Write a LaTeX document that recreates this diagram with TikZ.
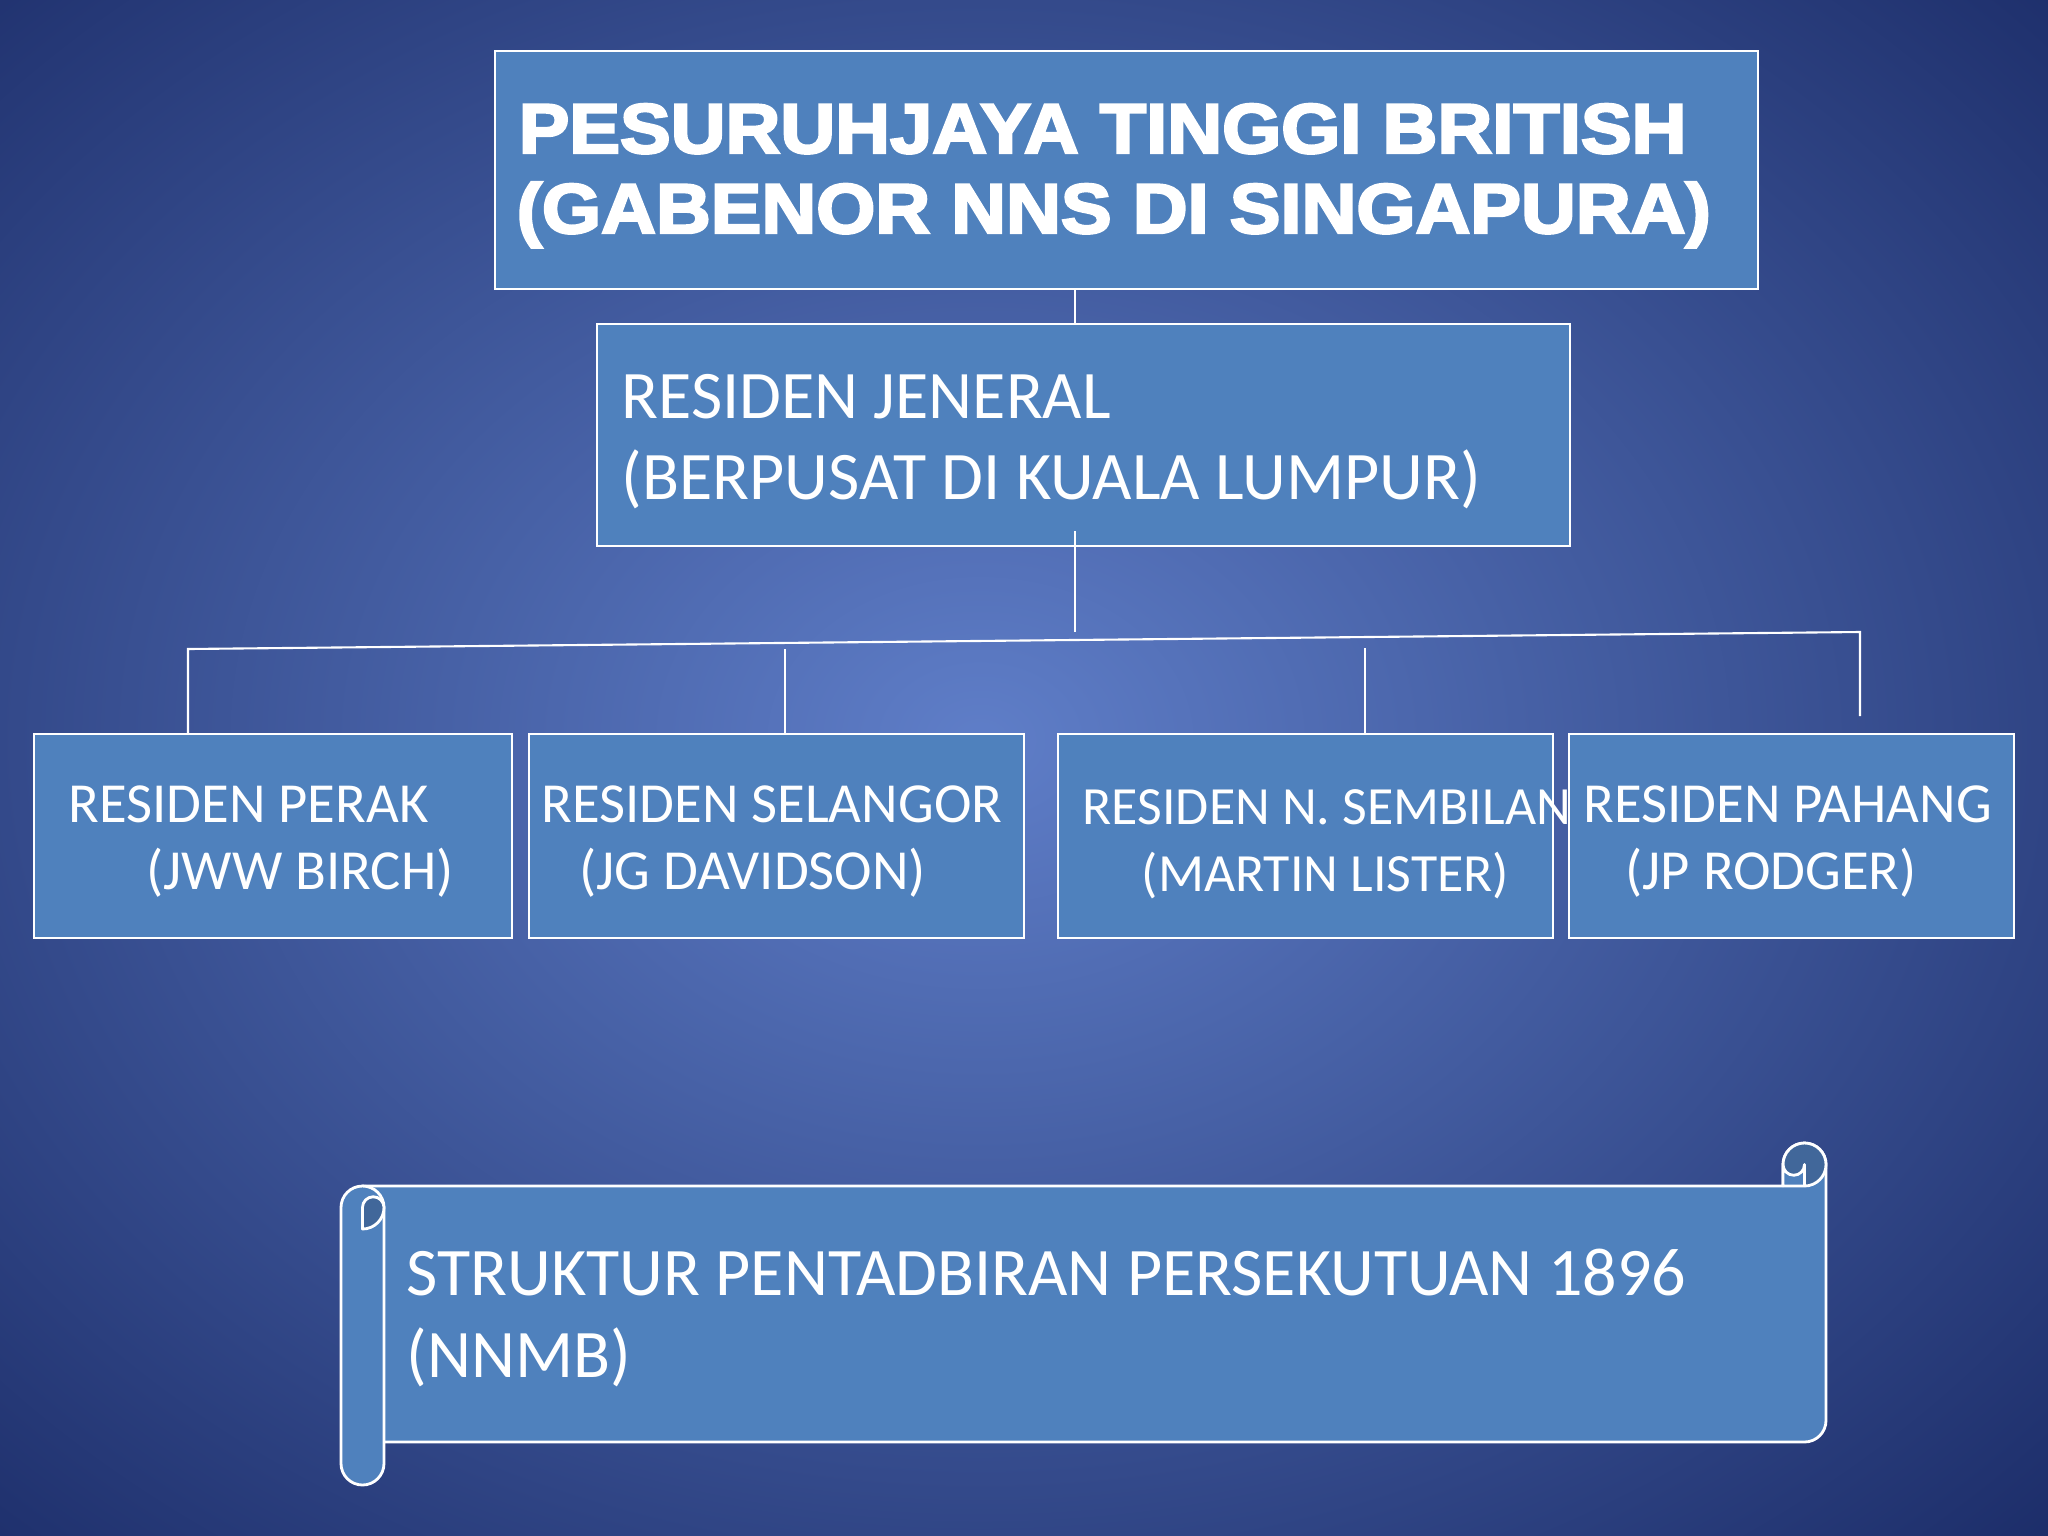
\documentclass[tikz,border=0pt]{standalone}
\usepackage{fontspec}
\setmainfont{Carlito}
\newfontfamily\headfont{Liberation Sans}[FakeStretch=1.08,BoldFeatures={FakeBold=3.5}]
\usepackage{xcolor}
\usepackage{tikz}
\usetikzlibrary{calc}
\definecolor{bgin}{HTML}{5F7EC8}
\definecolor{bgout}{HTML}{1C2D69}
\definecolor{boxfill}{HTML}{4F81BD}
\definecolor{curl}{HTML}{41679A}
\definecolor{text}{HTML}{FFFFFF}
\tikzset{
  box/.style={draw=text, fill=boxfill, line width=0.6pt, inner sep=0pt},
  link/.style={draw=text, line width=0.6pt},
  scroll/.style={draw=text, fill=boxfill, line width=0.8pt, line join=round},
  head/.style={text=text, anchor=base west, inner sep=0pt, font=\headfont\bfseries\fontsize{20}{23}\selectfont},
  lab/.style={text=text, anchor=base west, inner sep=0pt, font=\fontsize{19.35}{23}\selectfont},
  labs/.style={text=text, anchor=base west, inner sep=0pt, font=\fontsize{16.1}{19}\selectfont},
  labn/.style={labs, font=\fontsize{15.3}{19}\selectfont},
}

\begin{document}
\begin{tikzpicture}[x=0.01cm, y=0.01cm]
  \useasboundingbox (0,0) rectangle (2048,-1536);
  \clip (0,0) rectangle (2048,-1536);
  \shade[inner color=bgin, outer color=bgout] (-520,410) rectangle (2480,-1890);

  % boxes
  \node[box, minimum width=12.63cm, minimum height=2.38cm] (pesuruhjaya) at (1126.5,-170) {};
  \node[box, minimum width=9.73cm, minimum height=2.22cm] (residen) at (1083.5,-435) {};
  \node[box, minimum width=4.78cm, minimum height=2.04cm] (perak) at (273,-836) {};
  \node[box, minimum width=4.95cm, minimum height=2.04cm] (selangor) at (776.5,-836) {};
  \node[box, minimum width=4.95cm, minimum height=2.04cm] (sembilan) at (1305.5,-836) {};
  \node[box, minimum width=4.45cm, minimum height=2.04cm] (pahang) at (1791.5,-836) {};

  % connectors
  \coordinate (rgEnd) at (1075,-632);
  \coordinate (busL) at (188,-649);
  \coordinate (busR) at (1860,-632);
  \coordinate (selTop) at (785,-649);
  \coordinate (semTop) at (1365,-648);
  \coordinate (pahEnd) at (1860,-716);
  \draw[link] (pesuruhjaya.south -| rgEnd) -- (residen.north -| rgEnd);
  \draw[link] ($(residen.south -| rgEnd)+(0,16)$) -- (rgEnd);
  \draw[link] (perak.north -| busL) -- (busL) -- (busR) -- (pahEnd);
  \draw[link] (selTop) -- (selangor.north -| selTop);
  \draw[link] (semTop) -- (sembilan.north -| semTop);

  % texts
  \node[head] (pesuruhjaya-a) at (518,-153) {PESURUHJAYA TINGGI BRITISH};
  \node[head] (pesuruhjaya-b) at (516,-233) {(GABENOR NNS DI SINGAPURA)};
  \node[lab] (residen-a) at (621,-418) {RESIDEN JENERAL};
  \node[lab] (residen-b) at (621,-499) {(BERPUSAT DI KUALA LUMPUR)};
  \node[labs] (perak-a) at (68,-822) {RESIDEN PERAK};
  \node[labs] (perak-b) at (146,-889) {(JWW BIRCH)};
  \node[labs] (selangor-a) at (541,-822) {RESIDEN SELANGOR};
  \node[labs] (selangor-b) at (579,-889) {(JG DAVIDSON)};
  \node[labn] (sembilan-a) at (1082,-824) {RESIDEN N. SEMBILAN};
  \node[labn] (sembilan-b) at (1141,-891) {(MARTIN LISTER)};
  \node[labs] (pahang-a) at (1583,-822) {RESIDEN PAHANG};
  \node[labs] (pahang-b) at (1625,-889) {(JP RODGER)};

  % scroll banner
  \draw[scroll] (362.5,-1186) -- (1783,-1186) -- (1783,-1164.5) arc (180:0:21.5)
    -- (1826,-1420.5) arc (0:-90:21.5) -- (362.5,-1442) -- cycle;
  \fill[curl] (1804.5,-1164.5) circle (21.5);
  \filldraw[scroll] (1783,-1164.5) arc (180:360:10.75) -- (1804.5,-1186) -- (1783,-1186) -- cycle;
  \draw[scroll, fill=none] (1783,-1164.5) arc (180:-90:21.5);
  \filldraw[scroll] (341,-1207.5) arc (180:0:21.5) -- (384,-1463.5) arc (0:-180:21.5) -- cycle;
  \filldraw[scroll, fill=curl] (362.5,-1207.5) arc (180:0:10.75) arc (0:-90:21.5) -- cycle;
  \node[lab] (struktur-a) at (406,-1295) {STRUKTUR PENTADBIRAN PERSEKUTUAN 1896};
  \node[lab] (struktur-b) at (406,-1377) {(NNMB)};
\end{tikzpicture}
\end{document}
